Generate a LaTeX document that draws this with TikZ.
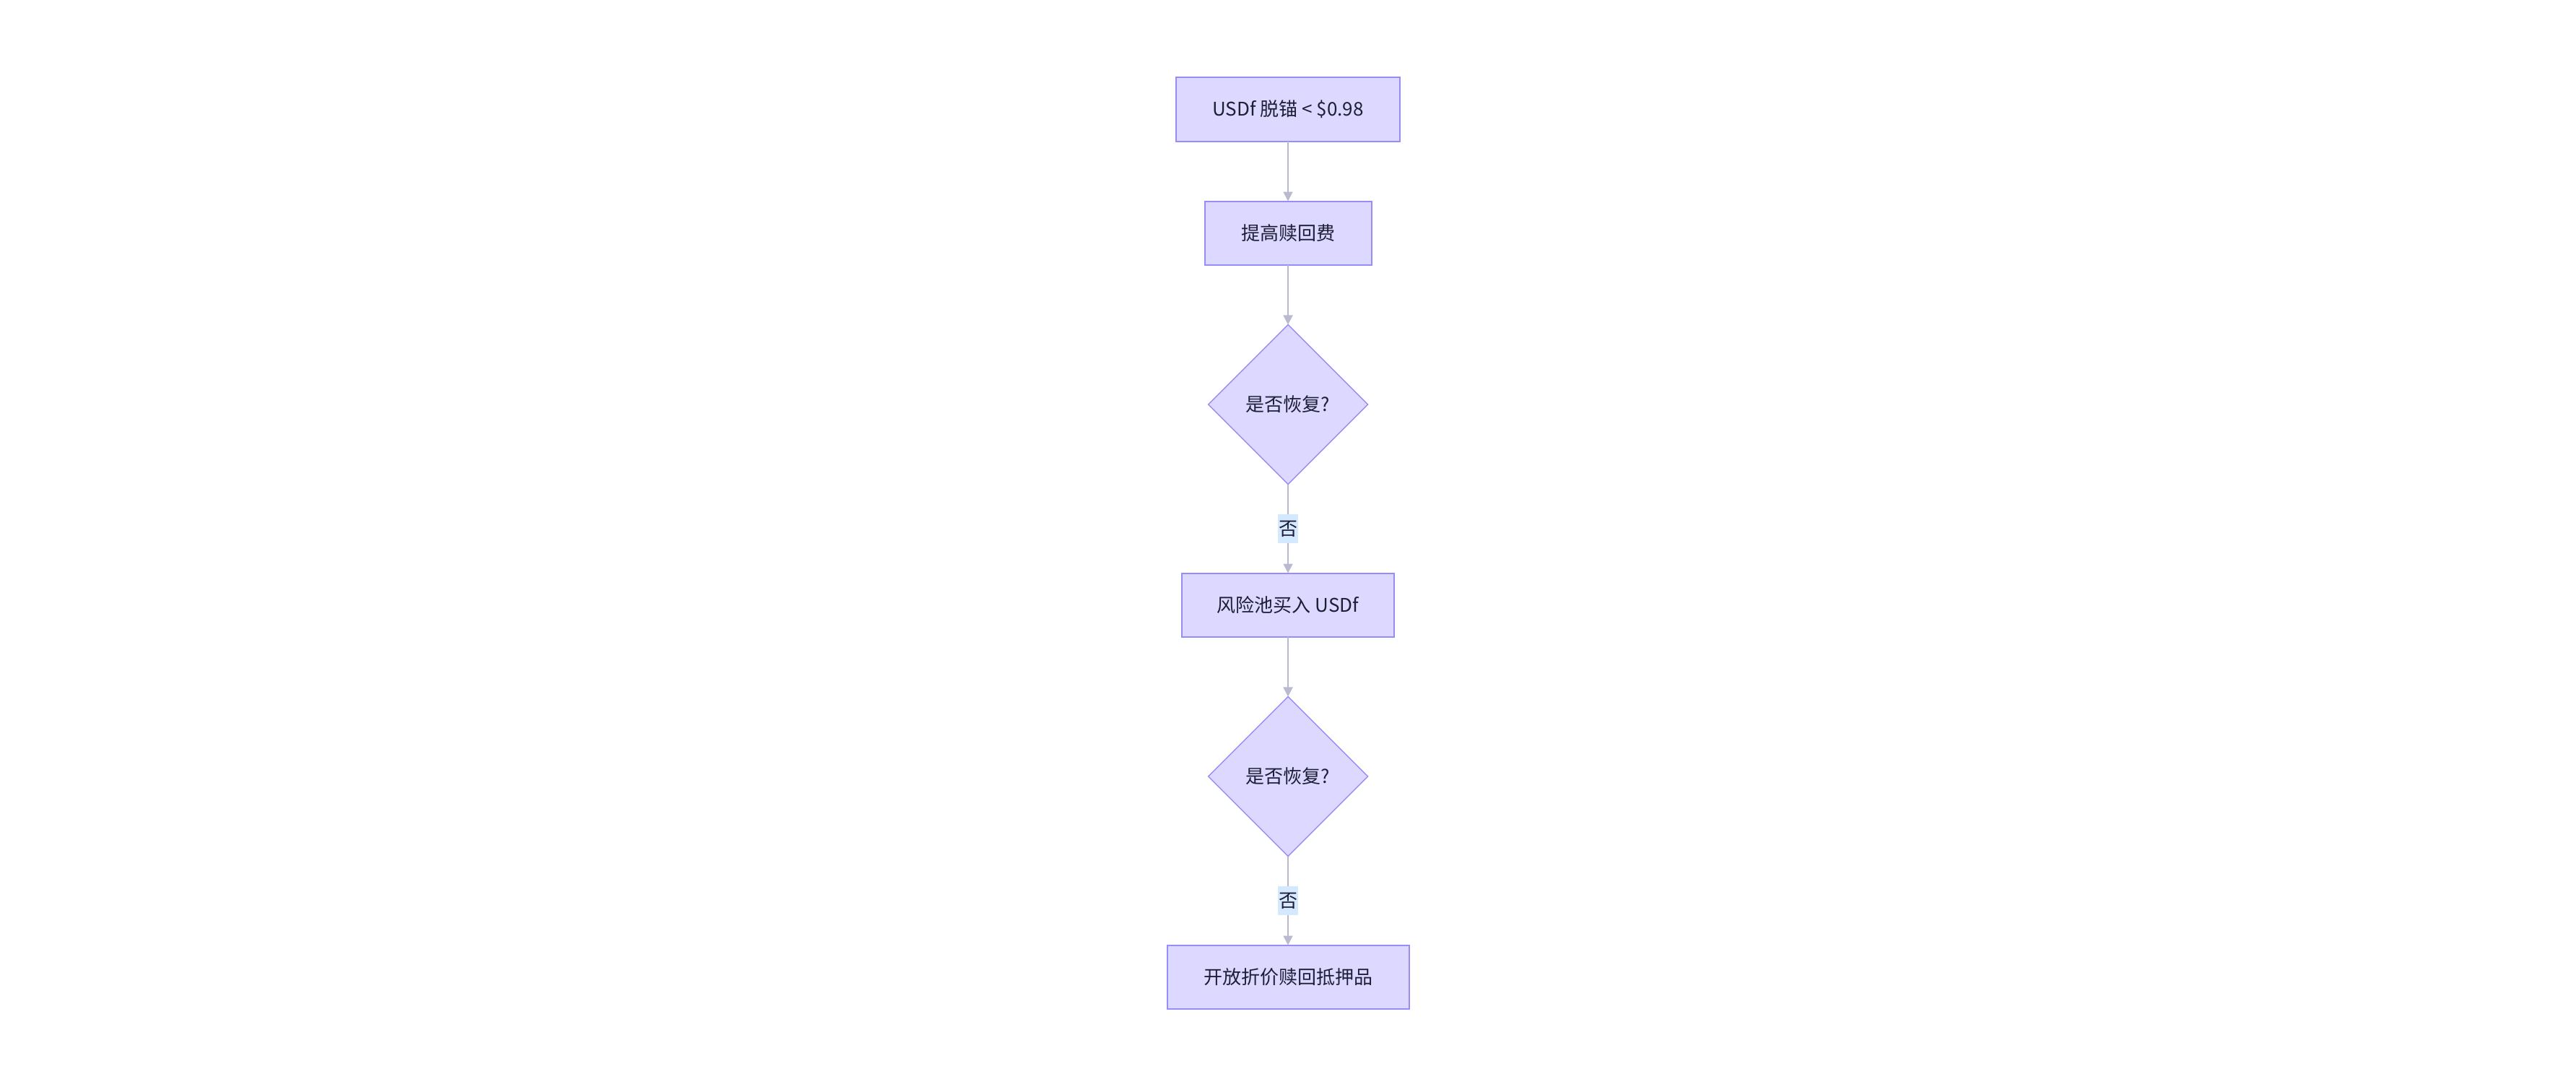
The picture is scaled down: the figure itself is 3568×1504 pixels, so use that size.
\documentclass[tikz,border=0pt]{standalone}
\usepackage{fontspec}
\setmainfont{Noto Sans CJK SC}
\usetikzlibrary{positioning,shapes.geometric,arrows.meta}
\definecolor{boxfill}{RGB}{220,216,255}
\definecolor{boxline}{RGB}{150,140,250}
\definecolor{arrline}{RGB}{185,185,208}
\definecolor{labfill}{RGB}{212,232,255}
\definecolor{txt}{RGB}{30,30,55}
\begin{document}
\begin{tikzpicture}[x=0.5pt,y=-0.5pt,
	every node/.style={font=\fontsize{13pt}{15pt}\selectfont,text=txt,outer sep=0pt},
	stepbox/.style={rectangle,draw=boxline,fill=boxfill,line width=1pt,minimum height=44pt},
	check/.style={diamond,draw=boxline,fill=boxfill,line width=0.7pt,minimum size=110.5pt,inner sep=0},
	flow/.style={draw=arrline,line width=1pt,-{Triangle[length=6.5pt,width=6.5pt]}},
	nolab/.style={fill=labfill,inner sep=0.6pt,minimum height=20pt},
	node distance=41.5pt]
\useasboundingbox (0,0) rectangle (3568,1504);
\node[stepbox,minimum width=155pt] (depeg) at (1784,151.5) {USDf 脱锚 < \$0.98};
\node[stepbox,minimum width=115.5pt,below=of depeg] (fee) {提高赎回费};
\node[check,below=of fee] (ok1) {是否恢复?};
\node[stepbox,minimum width=147pt,below=61.5pt of ok1] (pool) {风险池买入 USDf};
\node[check,below=of pool] (ok2) {是否恢复?};
\node[stepbox,minimum width=167.5pt,below=61.5pt of ok2] (redeem) {开放折价赎回抵押品};
% connectors
\draw[flow] (depeg) -- (fee);
\draw[flow] (fee) -- (ok1);
\draw[flow] (ok1) -- node[nolab] {否} (pool);
\draw[flow] (pool) -- (ok2);
\draw[flow] (ok2) -- node[nolab] {否} (redeem);
\end{tikzpicture}
\end{document}
